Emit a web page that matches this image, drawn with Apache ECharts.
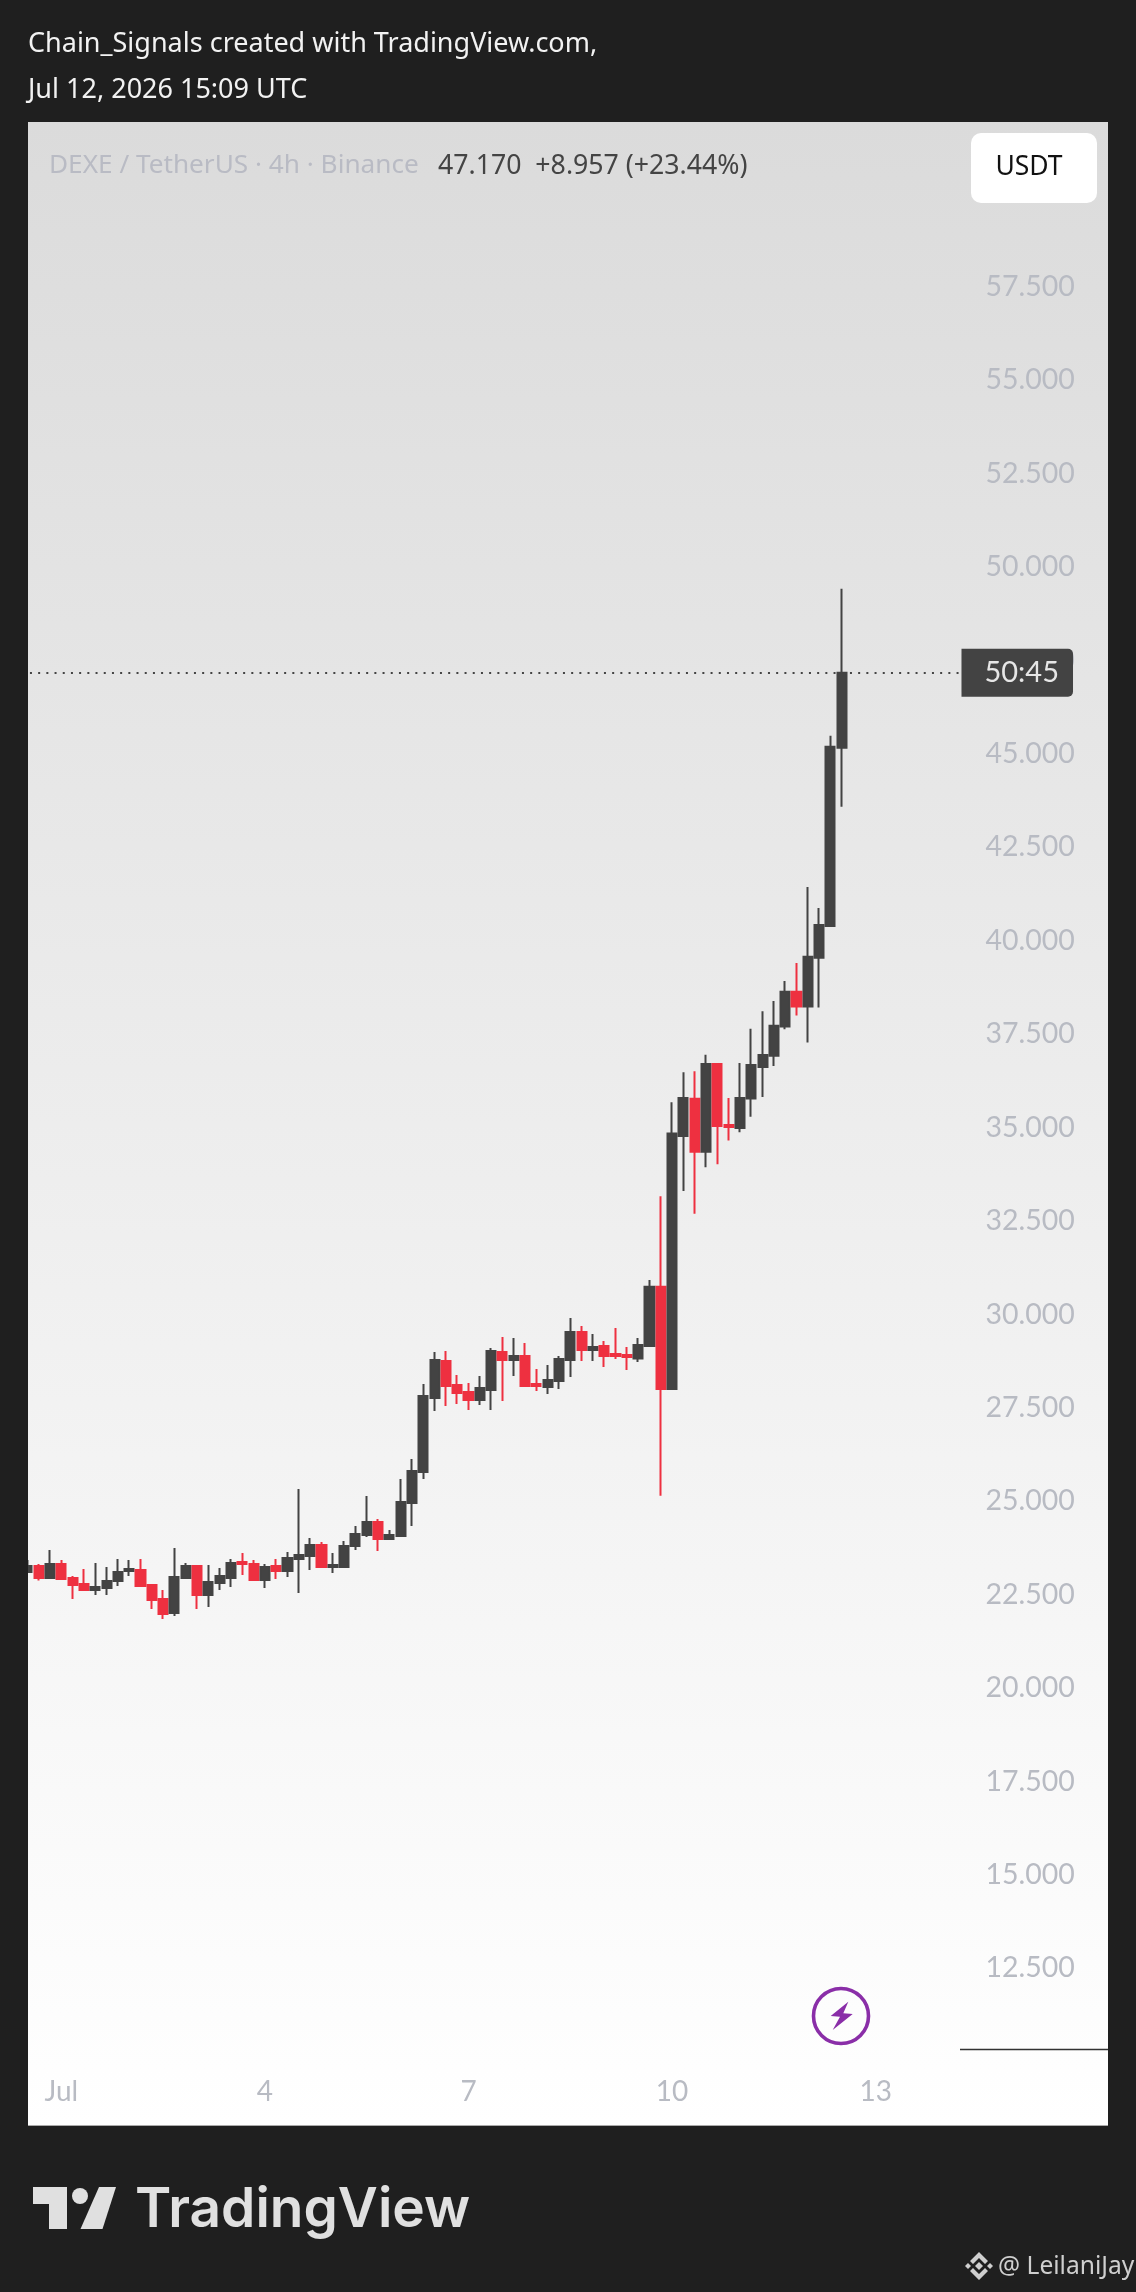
<!DOCTYPE html>
<html>
<head>
<meta charset="utf-8">
<style>html,body{margin:0;padding:0;background:#1f1f1f}#c{width:1136px;height:2292px}</style>
<script src="https://cdn.jsdelivr.net/npm/echarts@6/dist/echarts.min.js"></script>
</head>
<body>
<div id="c"></div>
<script>
const opens = [23.105,23.266,22.945,23.319,22.945,22.784,22.623,22.677,22.864,23.132,23.159,22.757,22.382,22.008,22.945,23.266,22.489,22.811,22.945,23.373,23.319,22.891,23.266,23.132,23.453,23.533,23.828,23.239,23.239,23.801,24.096,24.443,23.988,24.068,24.951,25.781,27.762,28.752,28.110,27.922,27.708,27.976,28.993,28.779,28.886,28.137,28.056,28.217,28.779,29.528,29.047,29.154,28.940,28.913,28.820,29.151,30.737,27.999,34.774,35.770,34.350,36.701,35.069,34.986,35.779,36.618,36.922,37.702,38.630,38.237,39.540,40.396,45.161];
const closes = [23.266,22.945,23.319,22.918,22.757,22.623,22.704,22.864,23.105,23.185,22.730,22.356,21.981,22.971,23.266,22.489,22.837,22.998,23.346,23.319,22.891,23.239,23.132,23.480,23.560,23.828,23.239,23.293,23.801,24.122,24.443,23.988,24.096,24.978,25.808,27.815,28.779,28.083,27.896,27.708,28.030,29.020,28.779,28.886,28.083,28.083,28.244,28.806,29.528,29.047,29.127,28.886,28.886,28.859,29.180,30.737,27.999,34.839,35.788,34.350,36.701,35.041,35.014,35.788,36.673,36.940,37.724,38.630,38.237,39.567,40.423,45.188,47.170];
const lows = [23.105,22.873,22.918,22.900,22.382,22.605,22.489,22.489,22.730,22.998,22.720,22.115,21.847,21.927,22.945,22.115,22.168,22.623,22.704,23.025,22.891,22.677,22.918,22.971,22.543,23.159,23.212,23.078,23.239,23.694,24.042,23.667,23.962,24.060,24.336,25.594,27.414,27.548,27.601,27.441,27.574,27.441,27.682,28.351,28.070,27.949,27.869,28.003,28.324,28.752,28.752,28.592,28.806,28.511,28.725,29.140,25.142,27.990,33.299,32.691,33.935,34.018,34.654,34.875,35.290,35.816,36.645,37.630,37.996,37.274,38.210,40.390,43.582];
const highs = [23.426,23.319,23.694,23.426,22.998,23.185,23.346,23.239,23.453,23.426,23.453,22.757,22.623,23.748,23.346,23.266,23.293,23.212,23.453,23.614,23.426,23.319,23.453,23.640,25.327,24.015,23.908,23.614,23.935,24.336,25.139,24.524,24.229,25.594,26.129,28.137,28.993,29.020,28.378,28.163,28.351,29.100,29.395,29.368,29.234,28.538,28.645,28.886,29.903,29.689,29.475,29.288,29.636,29.127,29.368,30.921,33.161,35.677,36.479,36.507,36.949,36.710,35.788,36.728,37.641,38.111,38.387,38.924,39.406,41.440,40.878,45.482,49.417];
const yTickLabels = ['57.500','55.000','52.500','50.000','47.500','45.000','42.500','40.000','37.500','35.000','32.500','30.000','27.500','25.000','22.500','20.000','17.500','15.000','12.500'];
const xTickLabels = {3:'Jul',21:'4',39:'7',57:'10',75:'13'};
const lastPrice = 47.170;
const countdownLabel = '50:45';
const headerLines = ['Chain_Signals created with TradingView.com,','Jul 12, 2026 15:09 UTC'];
const symbolLabel = 'DEXE / TetherUS · 4h · Binance';
const quoteLabel = '47.170  +8.957 (+23.44%)';

const slotCount = 83;
const categories = Array.from({length: slotCount}, (_, i) => String(i));
const candles = opens.map((o, i) => [o, closes[i], lows[i], highs[i]]);

const DARK = '#434343', RED = '#ee3040', BG = '#1f1f1f', PURPLE = '#8a2ea8', LOGO = '#e0e0e0', MARK = '#cfcfcf';
const chart = echarts.init(document.getElementById('c'), null, {renderer:'canvas', width:1136, height:2292});

function txt(text, x, y, size, fill, family, extra) {
  return {type:'text', z:110, silent:true, style:Object.assign({
    text, x, y, fill, fontSize:size, fontFamily:family, verticalAlign:'middle', align:'left'
  }, extra||{})};
}
function poly(points, fill) {
  return {type:'polygon', z:105, silent:true, shape:{points}, style:{fill}};
}
const headFont = '"Noto Sans",sans-serif';

chart.setOption({
  animation:false,
  backgroundColor:BG,
  grid:{left:21.75, top:100, width:938.73, height:1961.6, containLabel:false},
  xAxis:{
    type:'category', data:categories, boundaryGap:true,
    axisLine:{show:false}, axisTick:{show:false}, splitLine:{show:false},
    axisLabel:{
      show:true, interval:0, margin:16,
      formatter:(v)=>xTickLabels[v]||'',
      color:'#b8bbc3', fontSize:28, fontFamily:'Lato, sans-serif', hideOverlap:false
    }
  },
  yAxis:{
    type:'value', position:'right', min:10, max:62.5, interval:2.5, scale:true,
    axisLine:{show:false}, axisTick:{show:false}, splitLine:{show:false},
    axisLabel:{
      margin:25, align:'left', padding:[6,0,0,0],
      formatter:(v)=>{const s=v.toFixed(3);return yTickLabels.includes(s)?s:'';},
      color:'#b8bbc3', fontSize:28.5, fontFamily:'Lato, sans-serif'
    }
  },
  series:[{
    type:'candlestick', data:candles, barWidth:9.6, z:5,
    itemStyle:{color:DARK, color0:RED, borderColor:DARK, borderColor0:RED, borderWidth:2},
    markLine:{
      silent:true, symbol:'none', animation:false,
      lineStyle:{color:'#444', type:[2,6.2], width:2},
      label:{
        show:true, position:'end', distance:1, formatter:countdownLabel,
        backgroundColor:DARK, color:'#e6e6e6', fontSize:29, fontFamily:'Lato, sans-serif',
        padding:[10,14,9,23], borderRadius:[0,5,5,0]
      },
      data:[{yAxis:lastPrice}]
    }
  }],
  graphic:{elements:[
    // panel
    {type:'rect', z:-1, silent:true, shape:{x:28,y:122,width:1080,height:2004},
     style:{fill:new echarts.graphic.LinearGradient(0,0,0,1,[{offset:0,color:'#dbdbdb'},{offset:1,color:'#ffffff'}])}},
    // frame hides the clipped part of the first candle
    {type:'rect', z:100, silent:true, shape:{x:0,y:122,width:28,height:2004}, style:{fill:BG}},
    {type:'line', z:100, silent:true, shape:{x1:960,y1:2049.5,x2:1108,y2:2049.5}, style:{stroke:'#333',lineWidth:1.5}},
    {type:'line', z:100, silent:true, shape:{x1:28,y1:2125.5,x2:1108,y2:2125.5}, style:{stroke:'#aaa',lineWidth:1}},
    // header
    txt(headerLines[0],28,44,27,'#f2f2f2',headFont),
    txt(headerLines[1],28,90,27,'#f2f2f2',headFont),
    txt(symbolLabel,49,166,26.2,'#b9bbc4',headFont),
    txt(quoteLabel,438,166,26.7,'#444444',headFont),
    {type:'rect', z:105, silent:true, shape:{x:971,y:133,width:126,height:70,r:10}, style:{fill:'#ffffff'}},
    txt('USDT',1029,167,26.5,'#111111',headFont,{align:'center'}),
    // lightning badge
    {type:'circle', z:105, silent:true, shape:{cx:841,cy:2016,r:27.5}, style:{fill:'none',stroke:PURPLE,lineWidth:3.6}},
    poly([[848.3,2001.7],[830.7,2016],[840,2016.7],[832.7,2030],[852.7,2014],[843.3,2013.3]],PURPLE),
    // TradingView logo
    poly([[33,2187],[67,2187],[67,2229],[49,2229],[49,2204],[33,2204]],LOGO),
    {type:'circle', z:105, silent:true, shape:{cx:80,cy:2196,r:8}, style:{fill:LOGO}},
    poly([[99,2187],[116,2187],[102.5,2229],[80.5,2229]],LOGO),
    txt('TradingView',135,2210,55,LOGO,'Inter, sans-serif',{fontWeight:600}),
    // watermark
    poly([[979,2252],[988,2261],[985,2264],[979,2258],[973,2264],[970,2261]],MARK),
    poly([[979,2280],[988,2271],[985,2268],[979,2274],[973,2268],[970,2271]],MARK),
    poly([[979,2262],[983,2266],[979,2270],[975,2266]],MARK),
    poly([[968,2263],[971,2266],[968,2269],[965,2266]],MARK),
    poly([[990,2263],[993,2266],[990,2269],[987,2266]],MARK),
    txt('@ LeilaniJay',998,2267,24.6,MARK,'"Noto Sans", sans-serif')
  ]}
});
</script>
</body>
</html>
